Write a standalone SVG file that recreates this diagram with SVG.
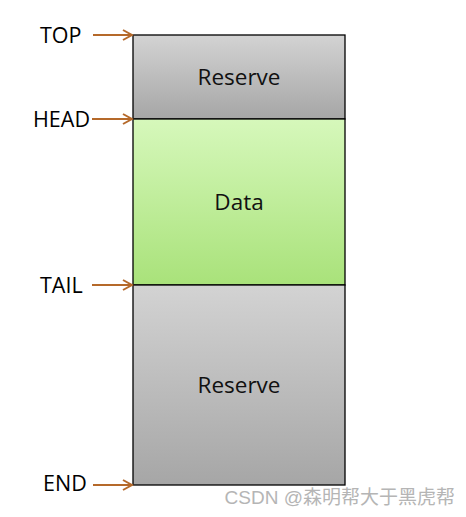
<svg xmlns="http://www.w3.org/2000/svg" width="466" height="517" viewBox="0 0 466 517">
<style>
.lbl{font-family:"Open Sans","Noto Sans",sans-serif;font-size:21.5px;fill:#000}
.in{font-family:"Open Sans","Noto Sans",sans-serif;font-size:22.5px;fill:#111;text-anchor:middle}
.blk{stroke:#000;stroke-width:1.3}
.arr{stroke:#b5692a;stroke-width:2;fill:none}
.wm{font-family:"Liberation Sans","Noto Sans CJK SC",sans-serif;font-size:19px;fill:#b5b5b5}
</style>
<defs>
<linearGradient id="gr" x1="0" y1="0" x2="0" y2="1"><stop offset="0" stop-color="#d3d3d3"/><stop offset="1" stop-color="#a6a6a6"/></linearGradient>
<linearGradient id="gg" x1="0" y1="0" x2="0" y2="1"><stop offset="0" stop-color="#d6f8bb"/><stop offset="1" stop-color="#a9e27a"/></linearGradient>
<marker id="ah" markerWidth="12" markerHeight="12" refX="10" refY="6" orient="auto" markerUnits="userSpaceOnUse"><path d="M1,1 L10,6 L1,11" fill="none" stroke="#b5692a" stroke-width="2"/></marker>
</defs>
<g id="reserve-top"><rect class="blk" x="133" y="35" width="212" height="84" fill="url(#gr)"/><text class="in" x="239" y="85">Reserve</text></g>
<g id="data"><rect class="blk" x="133" y="119" width="212" height="166" fill="url(#gg)"/><text class="in" x="239" y="210">Data</text></g>
<g id="reserve-bottom"><rect class="blk" x="133" y="285" width="212" height="200" fill="url(#gr)"/><text class="in" x="239" y="393">Reserve</text></g>
<g id="labels">
<text class="lbl" x="40" y="43">TOP</text>
<text class="lbl" x="33" y="127">HEAD</text>
<text class="lbl" x="40" y="293">TAIL</text>
<text class="lbl" x="43" y="491">END</text>
</g>
<g id="connectors">
<line class="arr" x1="93" y1="35" x2="132" y2="35" marker-end="url(#ah)"/>
<line class="arr" x1="92" y1="119" x2="132" y2="119" marker-end="url(#ah)"/>
<line class="arr" x1="92" y1="285" x2="132" y2="285" marker-end="url(#ah)"/>
<line class="arr" x1="93" y1="485" x2="132" y2="485" marker-end="url(#ah)"/>
</g>
<text class="wm" x="455" y="504" text-anchor="end">CSDN @森明帮大于黑虎帮</text>
</svg>
